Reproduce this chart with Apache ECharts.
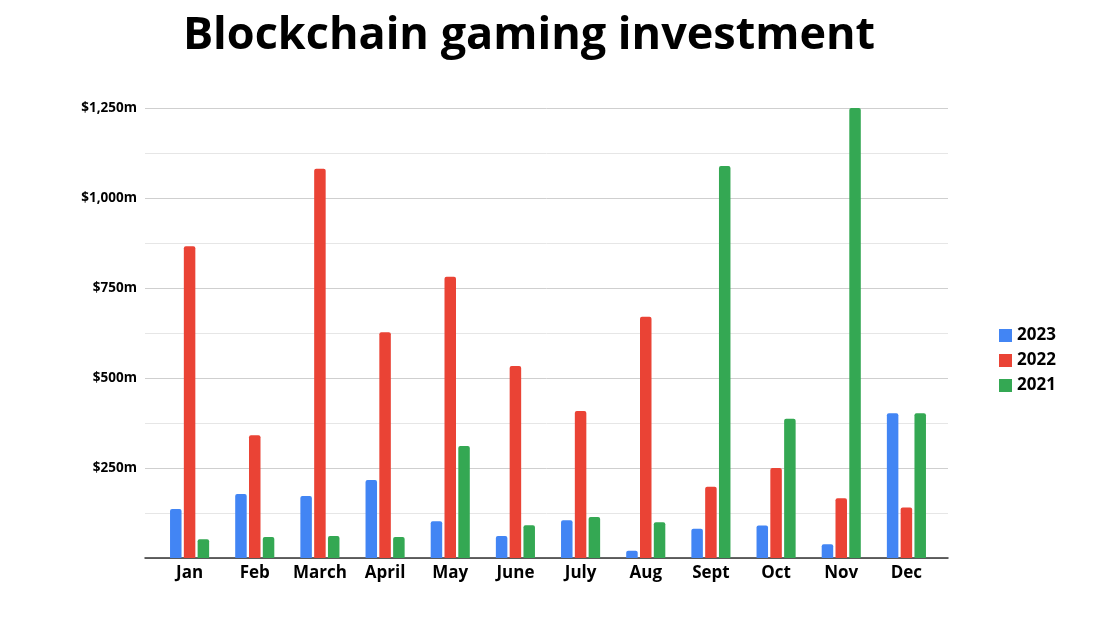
<!DOCTYPE html>
<html><head><meta charset="utf-8">
<script src="https://cdn.jsdelivr.net/npm/echarts@6/dist/echarts.min.js"></script>
<style>html,body{margin:0;padding:0;background:#fff}#c{width:1100px;height:619px}</style>
</head><body><div id="c"></div>
<script>
const months = ['Jan','Feb','March','April','May','June','July','Aug','Sept','Oct','Nov','Dec'];
const v2023 = [136,178,172,217,102,61,105,20,81,90,38,402];
const v2022 = [866,341,1081,627,781,533,408,670,198,250,166,140];
const v2021 = [52,58,61,58,311,91,114,99,1089,387,1250,402];
const seriesNames = ['2023','2022','2021'];
const colors = ['#4285F4','#EA4335','#34A853'];

const chart = echarts.init(document.getElementById('c'));
const font = '"Open Sans", "Noto Sans", sans-serif';
chart.setOption({
  animation:false,
  color: colors,
  title:{text:'Blockchain gaming investment',left:524,top:9,textAlign:'center',
    textStyle:{fontFamily:font,fontWeight:'bold',fontSize:45,color:'#000'}},
  legend:{orient:'vertical',left:994,top:322,itemWidth:13,itemHeight:13,itemGap:8,
    icon:'rect',textStyle:{fontFamily:font,fontWeight:'bold',fontSize:17,color:'#000'}},
  grid:[
    {left:145,right:152,top:108,bottom:61,containLabel:false},
    {left:157,right:161,top:108,bottom:61,containLabel:false}
  ],
  xAxis:[
    {type:'category',gridIndex:0,data:months,
      axisLine:{lineStyle:{color:'#333',width:1.5}},axisTick:{show:false},axisLabel:{show:false}},
    {type:'category',gridIndex:1,data:months,
      axisLine:{show:false},axisTick:{show:false},
      axisLabel:{interval:0,fontFamily:font,fontWeight:'bold',fontSize:17,color:'#000',margin:7}}
  ],
  yAxis:[
    {type:'value',gridIndex:0,min:0,max:1250,interval:250,
      axisLine:{show:false},axisTick:{show:false},
      axisLabel:{fontFamily:font,fontWeight:'bold',fontSize:13.5,color:'#000',margin:8,
        formatter:v=> v===0?'':'$'+v.toLocaleString('en-US')+'m'},
      splitLine:{lineStyle:{color:'#cfcfcf',width:1}},
      minorTick:{show:false,splitNumber:2},
      minorSplitLine:{show:true,lineStyle:{color:'#e6e6e6',width:1}}},
    {type:'value',gridIndex:1,min:0,max:1250,interval:250,show:false,
      splitLine:{show:false}}
  ],
  series: [v2023,v2022,v2021].map((d,i)=>({
    name:seriesNames[i],type:'bar',data:d,xAxisIndex:1,yAxisIndex:1,
    barWidth:11.5,barGap:'20%',
    itemStyle:{borderRadius:[2,2,0,0]}
  }))
});
</script></body></html>
